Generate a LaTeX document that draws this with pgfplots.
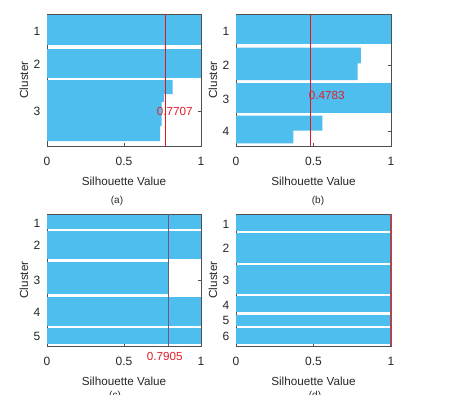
\documentclass[border=0pt]{standalone}
\usepackage{fontspec}
\setmainfont{Liberation Sans}
\usepackage{pgfplots}
\pgfplotsset{compat=1.18}
\definecolor{barblue}{RGB}{77,190,238}
\definecolor{textred}{RGB}{225,30,45}
\definecolor{axisgray}{RGB}{80,80,80}
\pgfplotsset{
  sil/.style={
    scale only axis, width=154pt, height=132pt,
    xmin=0, xmax=1, ymin=0, ymax=132, y dir=reverse,
    xtick={0,0.5,1}, xticklabels={0,0.5,1},
    tick align=inside, major tick length=3pt,
    axis line style={draw=axisgray, line width=0.8pt},
    tick style={draw=axisgray, line width=0.6pt},
    clip=false,
    xlabel={Silhouette Value}, ylabel={Cluster},
    label style={font=\fontsize{11.7}{13}\selectfont, text=black!85},
    tick label style={font=\fontsize{12}{13}\selectfont, text=black!85},
    xlabel style={at={(axis description cs:0.5,0)}, anchor=center, yshift=-35pt},
    ylabel style={at={([xshift=-23pt]axis description cs:0,0.5)}, anchor=center, rotate=0},
    xticklabel style={anchor=center, yshift=-15.7pt},
    yticklabel style={anchor=center, xshift=-10pt},
  },
  bar/.style={fill=barblue, draw=none},
  redline/.style={draw={rgb,255:red,228;green,20;blue,35}, line width=1.2pt},
}
\begin{document}
\begin{tikzpicture}
% (a)
\begin{axis}[sil, at={(47pt,248pt)}, anchor=south west,
  ytick={17,50,97}, yticklabels={1,2,3}]
\addplot[bar] coordinates {(0,1) (1,1) (1,31.5) (0,31.5)} -- cycle;
\addplot[bar] coordinates {(0,35) (1,35) (1,63.7) (0,63.7)} -- cycle;
\addplot[bar] coordinates {(0,66) (0.816,66) (0.816,80) (0.76,80) (0.76,88) (0.745,88) (0.745,112) (0.735,112) (0.735,127) (0,127)} -- cycle;
\addplot[redline] coordinates {(0.7707,0) (0.7707,132)};
\node[text=textred, font=\fontsize{11.7}{13}\selectfont] at (axis cs:0.829,97) {0.7707};
\end{axis}
% (b)
\begin{axis}[sil, at={(236pt,248pt)}, anchor=south west, width=155pt,
  ytick={17.7,51.7,85,117}, yticklabels={1,2,3,4}]
\addplot[bar] coordinates {(0,1) (1,1) (1,30.3) (0,30.3)} -- cycle;
\addplot[bar] coordinates {(0,33.7) (0.806,33.7) (0.806,49.3) (0.785,49.3) (0.785,66) (0,66)} -- cycle;
\addplot[bar] coordinates {(0,69.3) (1,69.3) (1,99.3) (0,99.3)} -- cycle;
\addplot[bar] coordinates {(0,101.7) (0.557,101.7) (0.557,116.7) (0.370,116.7) (0.370,129.3) (0,129.3)} -- cycle;
\addplot[redline] coordinates {(0.4783,0) (0.4783,132)};
\node[text=textred, font=\fontsize{11.7}{13}\selectfont] at (axis cs:0.585,81.7) {0.4783};
\end{axis}
% (c)
\begin{axis}[sil, at={(47pt,48pt)}, anchor=south west,
  ytick={9.3,31.7,66,98.3,122.7}, yticklabels={1,2,3,4,5}]
\addplot[bar] coordinates {(0,1) (1,1) (1,14.7) (0,14.7)} -- cycle;
\addplot[bar] coordinates {(0,16.7) (1,16.7) (1,45.3) (0,45.3)} -- cycle;
\addplot[bar] coordinates {(0,48) (0.785,48) (0.785,80.3) (0,80.3)} -- cycle;
\addplot[bar] coordinates {(0,82.7) (1,82.7) (1,111.7) (0,111.7)} -- cycle;
\addplot[bar] coordinates {(0,114.3) (1,114.3) (1,130) (0,130)} -- cycle;
\addplot[draw={rgb,255:red,105;green,95;blue,125}, line width=1.1pt] coordinates {(0.7905,0) (0.7905,132)};
\node[text=textred, font=\fontsize{11.7}{13}\selectfont] at (axis cs:0.764,142.7) {0.7905};
\end{axis}
% (d)
\begin{axis}[sil, at={(236pt,48pt)}, anchor=south west, width=155pt,
  ytick={10,34.3,66,91,106.7,122.7}, yticklabels={1,2,3,4,5,6}]
\addplot[bar] coordinates {(0,1) (1,1) (1,17) (0,17)} -- cycle;
\addplot[bar] coordinates {(0,19) (1,19) (1,48.7) (0,48.7)} -- cycle;
\addplot[bar] coordinates {(0,51) (1,51) (1,80) (0,80)} -- cycle;
\addplot[bar] coordinates {(0,82.3) (1,82.3) (1,98.3) (0,98.3)} -- cycle;
\addplot[bar] coordinates {(0,100.7) (1,100.7) (1,112) (0,112)} -- cycle;
\addplot[bar] coordinates {(0,114.3) (1,114.3) (1,130) (0,130)} -- cycle;
\addplot[draw={rgb,255:red,170;green,70;blue,80}, line width=1.2pt] coordinates {(1,0) (1,132)};
\end{axis}
\node[font=\fontsize{10}{12}\selectfont, text=black!85] at (117pt,193.5pt) {(a)};
\node[font=\fontsize{10}{12}\selectfont, text=black!85] at (318pt,193.5pt) {(b)};
\node[font=\fontsize{10}{12}\selectfont, text=black!85, anchor=north, inner sep=0pt] at (115pt,2.5pt) {(c)};
\node[font=\fontsize{10}{12}\selectfont, text=black!85, anchor=north, inner sep=0pt] at (315pt,2.5pt) {(d)};
\pgfresetboundingbox
\useasboundingbox (0,0) rectangle (474pt,394pt);
\end{tikzpicture}
\end{document}
